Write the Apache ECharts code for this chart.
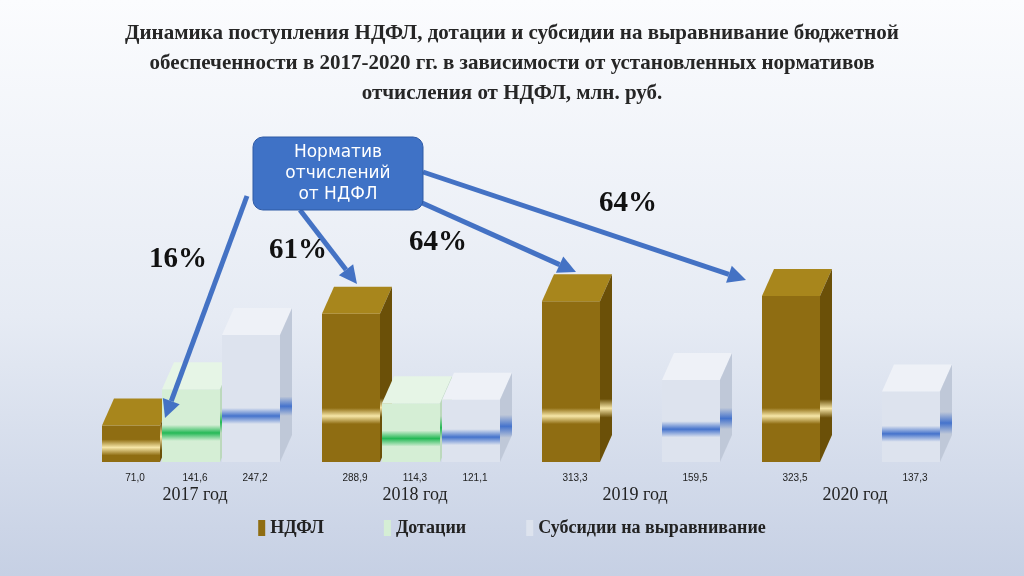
<!DOCTYPE html>
<html><head><meta charset="utf-8">
<script src="https://cdn.jsdelivr.net/npm/echarts@6/dist/echarts.min.js"></script>
<style>html,body{margin:0;padding:0;}#c{width:1024px;height:576px;background:linear-gradient(#fbfcfe,#e6ebf4 55%,#c6d0e4);}</style>
</head><body><div id="c"></div>
<script>
const categories = ['2017 год','2018 год','2019 год','2020 год'];
const ndfl = [71.0, 288.9, 313.3, 323.5];
const dotacii = [141.6, 114.3, null, null];
const subsidii = [247.2, 121.1, 159.5, 137.3];
const seriesNames = ['НДФЛ','Дотации','Субсидии на выравнивание'];

const styles = [
  {base:'#8f6d12', band:'#f6e6a8', top:'#a8861c', side:'#6b5008'},
  {base:'#d5eed5', band:'#25b956', top:'#e6f5e6', side:'#bcd9bc'},
  {base:'#dde3ee', band:'#4573cc', top:'#eef1f7', side:'#bfc8d8'}
];
function fmt(v){return v.toFixed(1).replace('.',',');}
function mk(name, arr, slot){
  const st = styles[slot];
  return {
    type:'custom', name:name, color: st.base,
    encode:{x:0,y:1},
    data: arr.map((v,i)=> v==null? null : [i,v]).filter(d=>d),
    renderItem:function(params, api){
      const x = api.value(0), v = api.value(1);
      const p = api.coord([x, v]), b = api.coord([x, 0]);
      const w = 58, dx = 12, dy = -27;
      const left = b[0] + (slot-1)*60 - w/2 - 4;
      const top = p[1], bot = b[1], h = bot - top;
      const bandUp = Math.min(h*0.4, 46);
      const c = 1 - bandUp/h, hw = 8/h;
      const grad = (col)=> new echarts.graphic.LinearGradient(0,0,0,1,[
        {offset:0,color:col},{offset:Math.max(0,c-hw),color:col},{offset:c,color:st.band},{offset:Math.min(1,c+hw),color:col},{offset:1,color:col}]);
      return {type:'group', children:[
        {type:'rect', shape:{x:left,y:top,width:w,height:h}, style:{fill:grad(st.base)}},
        {type:'polygon', shape:{points:[[left,top],[left+dx,top+dy],[left+w+dx,top+dy],[left+w,top]]}, style:{fill:st.top}},
        {type:'polygon', shape:{points:[[left+w,top],[left+w+dx,top+dy],[left+w+dx,bot+dy],[left+w,bot]]}, style:{fill:grad(st.side)}},
        {type:'text', style:{x:left+w/2+4,y:bot+16,text:fmt(v),fill:'#222',font:'10px "Liberation Sans"',align:'center',verticalAlign:'middle'}}
      ]};
    }
  };
}
const chart = echarts.init(document.getElementById('c'));
function arrow(x1,y1,x2,y2){
  const a = Math.atan2(y2-y1,x2-x1), L=18, W=9;
  const bx = x2-L*Math.cos(a), by = y2-L*Math.sin(a);
  return [
    {type:'line', shape:{x1:x1,y1:y1,x2:bx,y2:by}, style:{stroke:'#4472c4',lineWidth:5}, z:50},
    {type:'polygon', shape:{points:[[x2,y2],[bx+W*Math.sin(a),by-W*Math.cos(a)],[bx-W*Math.sin(a),by+W*Math.cos(a)]]}, style:{fill:'#4472c4'}, z:50}
  ];
}
const pct = (t,x,y)=>({type:'text', x:x, y:y, style:{text:t, font:'bold 29px "Liberation Serif"', fill:'#111', align:'center', verticalAlign:'middle'}, z:60});
chart.setOption({
  title:{text:'Динамика поступления НДФЛ, дотации и субсидии на выравнивание бюджетной\nобеспеченности в 2017-2020 гг. в зависимости от установленных нормативов\nотчисления от НДФЛ, млн. руб.',
    left:'center', top:14, textStyle:{fontFamily:'Liberation Serif', fontWeight:'bold', fontSize:21, color:'#262626', lineHeight:30}},
  legend:{bottom:34, left:'center', itemWidth:7, itemHeight:16, itemGap:60, icon:'rect',
    textStyle:{fontFamily:'Liberation Serif', fontWeight:'bold', fontSize:18, color:'#222'}, data:seriesNames},
  grid:{left:85, right:59, top:100, bottom:114},
  xAxis:{type:'category', data:categories, axisLine:{show:false}, axisTick:{show:false},
    axisLabel:{margin:24, fontFamily:'Liberation Serif', fontSize:18, color:'#222'}},
  yAxis:{type:'value', min:0, max:705, show:false},
  series:[mk(seriesNames[0],ndfl,0), mk(seriesNames[1],dotacii,1), mk(seriesNames[2],subsidii,2)],
  graphic:[
    {type:'rect', shape:{x:253,y:137,width:170,height:73,r:10}, style:{fill:'#3f72c6',stroke:'#2f5aa5',lineWidth:1}, z:55},
    {type:'text', x:338, y:174, style:{text:'Норматив\nотчислений\nот НДФЛ', font:'17px "DejaVu Sans"', fill:'#fff', align:'center', verticalAlign:'middle', lineHeight:21}, z:56},
    ...arrow(247,196,165,418), ...arrow(300,210,357,284), ...arrow(420,202,576,272), ...arrow(423,172,746,280),
    pct('16%',178,260), pct('61%',298,251), pct('64%',438,243), pct('64%',628,204)
  ]
});
</script></body></html>
